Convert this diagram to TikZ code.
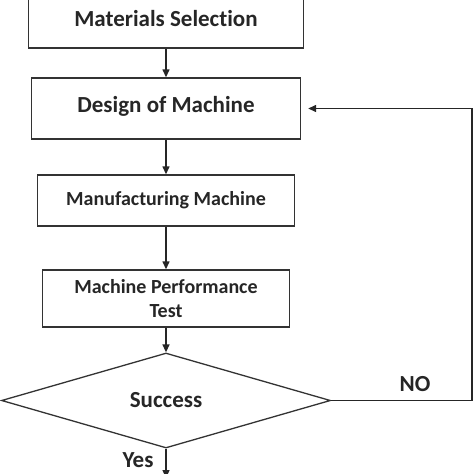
\documentclass[tikz,border=0pt]{standalone}
\usepackage{fontspec}
\setmainfont[Ligatures=NoCommon]{Carlito}
\usetikzlibrary{shapes.geometric,arrows.meta}
\begin{document}
\begin{tikzpicture}[x=1pt,y=-1pt,
  lbl/.style={font=\bfseries\fontsize{23}{24}\selectfont, text=black!85},
  small/.style={font=\bfseries\fontsize{20}{24}\selectfont},
  stepbox/.style={draw=black!80, line width=1.4pt, rectangle, inner sep=0pt, lbl},
  decide/.style={draw=black!80, line width=1.3pt, diamond, inner sep=0pt, lbl},
  conn/.style={draw=black!85, line width=1.4pt, -{Triangle[length=8pt,width=7pt]}}]
\useasboundingbox (0,0) rectangle (474,474);
\clip (0,0) rectangle (474,474);
\fill[white] (0,0) rectangle (474,474);
\node[stepbox, minimum width=275pt, minimum height=58pt] (b1) at (166,19) {\raisebox{2pt}{Materials Selection}};
\node[stepbox, minimum width=269pt, minimum height=61pt] (b2) at (166,108.5) {\raisebox{8pt}{Design of Machine}};
\node[stepbox, small, minimum width=257pt, minimum height=51pt] (b3) at (166,200.5) {Manufacturing Machine};
\node[stepbox, small, minimum width=247pt, minimum height=57pt, align=center] (b4) at (166,298.5) {Machine Performance\\Test};
\node[decide, minimum width=329pt, minimum height=95pt] (d) at (166,400.5) {\raisebox{2pt}{Success}};
\coordinate (out) at (166,478);
\coordinate (loop) at (472,400.5);
\draw[conn] (b1) -- (b2);
\draw[conn] (b2) -- (b3);
\draw[conn] (b3) -- (b4);
\draw[conn] (b4) -- (d);
\draw[conn] (d) -- (out);
\draw[conn, shorten >=7pt] (d.east) -- (loop) |- (b2.east);
\node[lbl] (no) at (415,384) {NO};
\node[lbl] (yes) at (138,460) {Yes};
\end{tikzpicture}
\end{document}
